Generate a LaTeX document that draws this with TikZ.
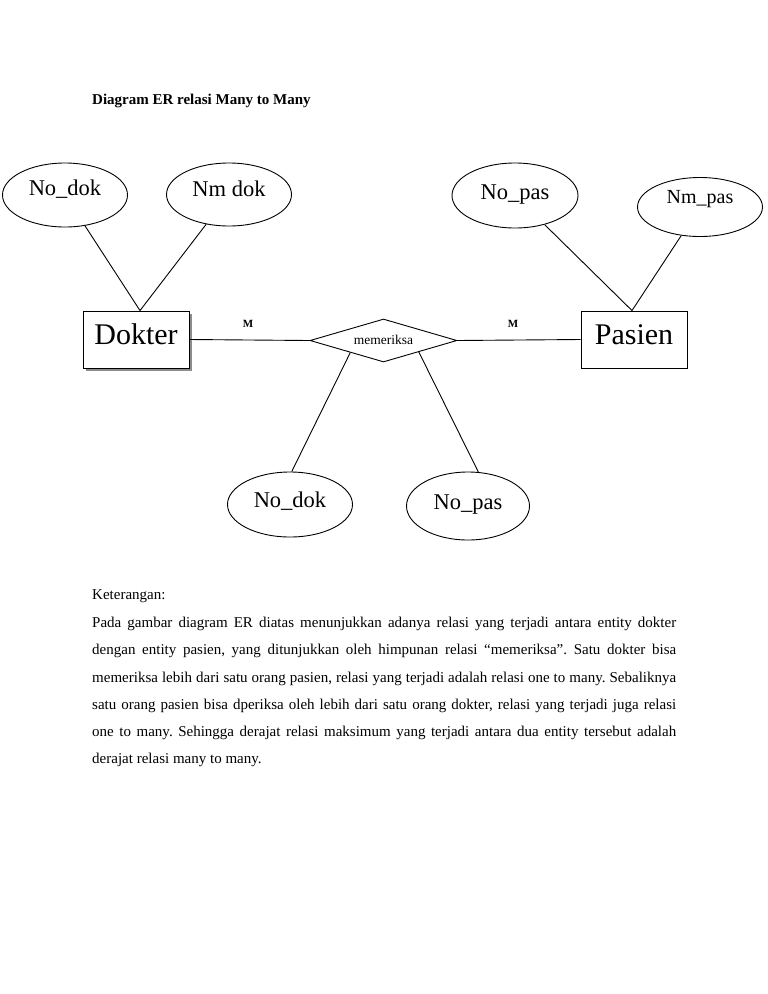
\documentclass[tikz,border=0pt]{standalone}
\usepackage{fontspec}
\setmainfont{Liberation Serif}
\usetikzlibrary{shapes.geometric,shadows}
\frenchspacing
\begin{document}
\begin{tikzpicture}[x=1pt,y=-1pt,
  every node/.style={inner sep=0pt},
  con/.style={draw=black, line width=0.9pt},
  entity/.style={draw, fill=white, line width=0.9pt, rectangle, minimum width=106pt, minimum height=57pt,
    font=\fontsize{30}{30}\selectfont, text height=9pt, text depth=0pt},
  attr/.style={draw, fill=white, line width=0.9pt, ellipse, minimum width=125pt, minimum height=64pt,
    font=\fontsize{22.5}{22.5}\selectfont, text depth=0pt},
  rel/.style={draw, fill=white, diamond, line width=0.9pt, minimum width=147pt, minimum height=43pt, aspect=3.4,
    font=\fontsize{13.5}{13.5}\selectfont, text height=7pt, text depth=0pt},
  card/.style={font=\fontsize{11}{11}\selectfont\bfseries, anchor=base},
  body/.style={font=\fontsize{15}{18}\selectfont\frenchspacing, anchor=base west}]
\fill[white] (0,0) rectangle (768,994);
\useasboundingbox (0,0) rectangle (768,994);

% title
\node[body, font=\fontsize{15}{18}\selectfont\bfseries] (title) at (92,104) {Diagram ER relasi Many to Many};

% entities
\node[entity, drop shadow={shadow xshift=2.5pt, shadow yshift=-2.5pt, fill=black!45, opacity=1}] (dokter) at (136,339.5) {Dokter};
\node[entity] (pasien) at (634,339.5) {Pasien};

% relationship
\node[rel] (rel) at (383.5,340.5) {memeriksa};

% attributes
\node[attr, text height=0pt] (a1) at (65,195) {No\_dok};
\node[attr, text height=3pt, minimum height=63pt] (a2) at (229,194.5) {Nm dok};
\node[attr, text height=8pt, minimum width=126pt, minimum height=65pt] (a3) at (515,195.5) {No\_pas};
\node[attr, text height=0pt, text depth=8pt, minimum height=59pt, font=\fontsize{20}{20}\selectfont] (a4) at (700,207) {Nm\_pas};
\node[attr, text height=5pt, minimum height=65pt] (a5) at (290,504.5) {No\_dok};
\node[attr, text height=6pt, minimum width=123pt, minimum height=68pt] (a6) at (468,506) {No\_pas};

% cardinalities
\node[card] (m1) at (248,327) {M};
\node[card] (m2) at (513,327) {M};

% connectors
\draw[con] (a1) -- ([xshift=4pt]dokter.north);
\draw[con] (a2) -- ([xshift=4pt]dokter.north);
\draw[con] (a3) -- ([xshift=-2pt]pasien.north);
\draw[con] (a4) -- ([xshift=-2pt]pasien.north);
\draw[con] (dokter.east) -- (rel.west);
\draw[con] (rel.east) -- (pasien.west);
\draw[con] (rel.200) -- (a5.87);
\draw[con] (rel.342) -- (a6.73);

% text
\node[body] (ket) at (92,599) {Keterangan:};
\node[body] (p1) at (92,627) {\makebox[584pt][s]{Pada gambar diagram ER diatas menunjukkan adanya relasi yang terjadi antara entity dokter}};
\node[body] (p2) at (92,654) {\makebox[584pt][s]{dengan entity pasien, yang ditunjukkan oleh himpunan relasi “memeriksa”. Satu dokter bisa}};
\node[body] (p3) at (92,682) {\makebox[584pt][s]{memeriksa lebih dari satu orang pasien, relasi yang terjadi adalah relasi one to many. Sebaliknya}};
\node[body] (p4) at (92,709) {\makebox[584pt][s]{satu orang pasien bisa dperiksa oleh lebih dari satu orang dokter, relasi yang terjadi juga relasi}};
\node[body] (p5) at (92,736) {\makebox[584pt][s]{one to many. Sehingga derajat relasi maksimum yang terjadi antara dua entity tersebut adalah}};
\node[body] (p6) at (92,763) {derajat relasi many to many.};
\end{tikzpicture}
\end{document}
